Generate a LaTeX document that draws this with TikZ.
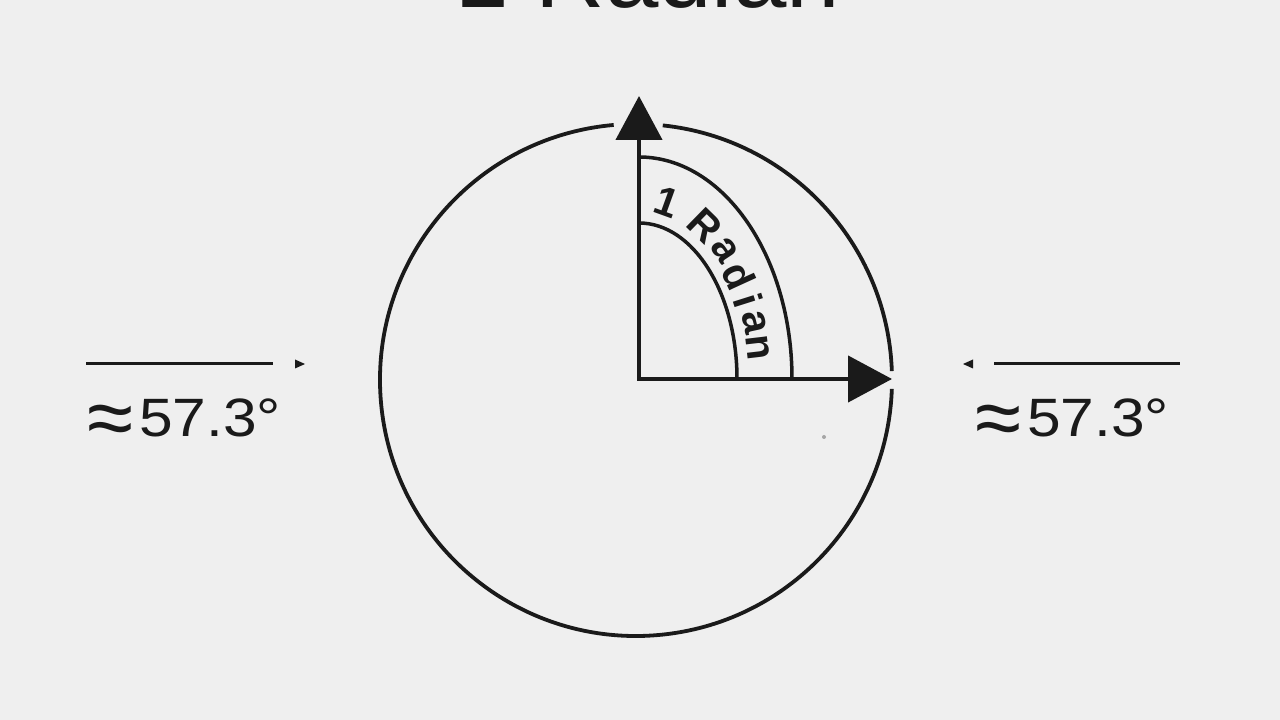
\documentclass[tikz,border=0pt]{standalone}
\usepackage{fontspec}
\usepackage{graphicx}
\setmainfont{Liberation Sans}
\newfontfamily\radfont{Liberation Sans}
\usetikzlibrary{arrows.meta}
\definecolor{bg}{HTML}{EFEFEF}
\definecolor{ink}{HTML}{1A1A1A}
\newcommand{\apx}{\raisebox{-10pt}{\scalebox{1.55}{≈}}\hspace{6pt}\scalebox{1.12}[1]{57.3°}}
\begin{document}
\begin{tikzpicture}[x=1pt,y=1pt,
  ringline/.style={draw=ink, line width=3.8pt},
  axis/.style={draw=ink, line width=4.4pt, line cap=rect, -{Triangle[length=44pt,width=46pt]}},
  band/.style={draw=ink, line width=3.5pt},
  sideline/.style={draw=ink, line width=3pt},
  val/.style={font=\fontsize{54}{60}\selectfont, text=ink, inner sep=0pt, anchor=base west},
  arcchar/.style={font=\radfont\bfseries\fontsize{41}{44}\selectfont, text=ink, inner sep=0pt, anchor=center},
  smalltip/.style={fill=ink}]
\fill[bg] (0,0) rectangle (1280,720);
\useasboundingbox (0,0) rectangle (1280,720);
% title, cut off by the top edge
\node[font=\fontsize{96}{110}\selectfont, text=ink, anchor=base, inner sep=0pt] (title) at (648,712) {1 Radian};
% circle
\coordinate (C) at (636,340);
\coordinate (O) at (639,341);
\coordinate (ytip) at (639,624);
\coordinate (xtip) at (892,341);
\draw[ringline] (C) ++(2:256) arc[start angle=2,end angle=84,radius=256];
\draw[ringline] (C) ++(95:256) arc[start angle=95,end angle=358,radius=256];
% axes
\draw[axis] (O) -- (ytip);
\draw[axis] (O) -- (xtip);
% band
\coordinate (i1) at (639,497);
\coordinate (o1) at (639,563);
\draw[band] (i1) arc[start angle=90,end angle=0,x radius=98,y radius=156];
\draw[band] (o1) arc[start angle=90,end angle=0,x radius=153,y radius=222];
% "1 Radian" along the band
\foreach \ch/\t [count=\k] in {1/76.5, R/57, a/45, d/34.5, i/25.5, a/18.2, n/10}{
  \path (O) ++(\t:0.965*125.5 and 0.965*189)
    node[arcchar, rotate={atan2(-189*cos(\t),125.5*sin(\t))}] (rc\k) {\ch};
}
% left side
\coordinate (l1) at (86,356);
\coordinate (l2) at (273,356);
\coordinate (ltip) at (305,356);
\draw[sideline] (l1) -- (l2);
\fill[smalltip] (ltip) -- ++(-10,4.5) -- ++(0,-9) -- cycle;
\node[val] (lblL) at (87,283) {\apx};
% right side
\coordinate (r1) at (994,356);
\coordinate (r2) at (1180,356);
\coordinate (rtip) at (963,356);
\draw[sideline] (r1) -- (r2);
\fill[smalltip] (rtip) -- ++(10,4.5) -- ++(0,-9) -- cycle;
\node[val] (lblR) at (975,283) {\apx};
% stray dot
\fill[gray!70] (824,283) circle (2);
\end{tikzpicture}
\end{document}
